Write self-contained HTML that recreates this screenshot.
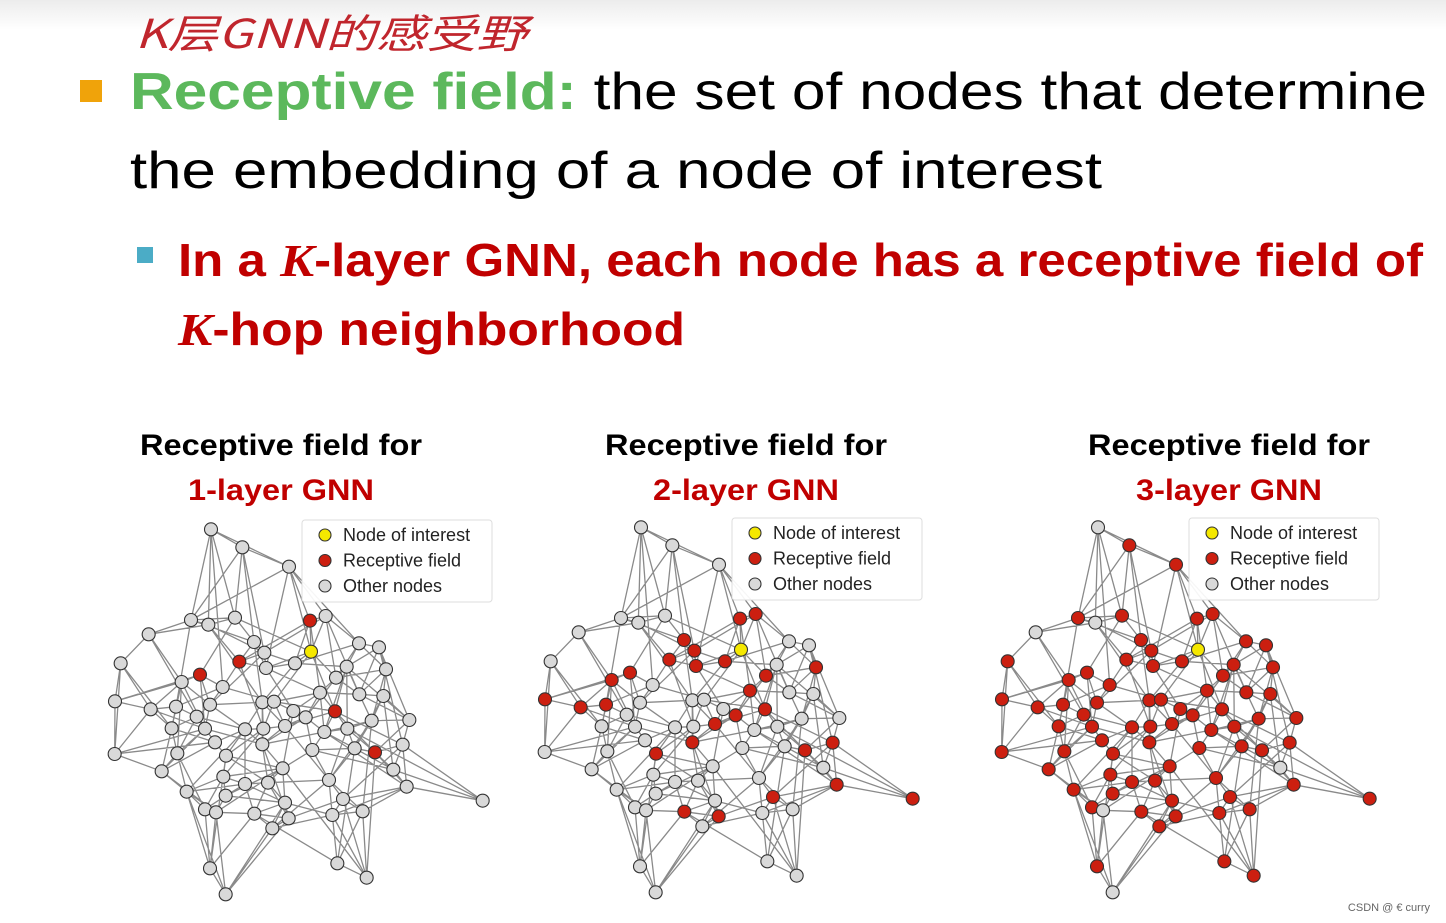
<!DOCTYPE html>
<html><head><meta charset="utf-8"><style>
html,body{margin:0;padding:0;background:#fff;}
body{width:1446px;height:923px;overflow:hidden;position:relative;}
svg{position:absolute;left:0;top:0;}
</style></head><body>
<svg id="s" width="1446" height="923" viewBox="0 0 1446 923" xmlns="http://www.w3.org/2000/svg">
<defs><linearGradient id="tg" x1="0" y1="0" x2="0" y2="1"><stop offset="0" stop-color="#ececec"/><stop offset="1" stop-color="#ffffff"/></linearGradient></defs>
<rect x="0" y="0" width="1446" height="30" fill="url(#tg)"/>
<text x="135" y="48" font-family="'Noto Sans CJK SC',sans-serif" font-size="40" fill="#c0262d" textLength="392" lengthAdjust="spacingAndGlyphs" font-style="italic">K层GNN的感受野</text>
<rect x="80" y="80" width="22" height="22" fill="#f0a30a"/>
<text x="130" y="109" font-family="'Liberation Sans',sans-serif" font-size="52" textLength="1297" lengthAdjust="spacingAndGlyphs"><tspan fill="#5cb85c" font-weight="bold">Receptive field:</tspan><tspan fill="#000"> the set of nodes that determine</tspan></text>
<text x="130" y="188" font-family="'Liberation Sans',sans-serif" font-size="52" fill="#000" textLength="972" lengthAdjust="spacingAndGlyphs">the embedding of a node of interest</text>
<rect x="137" y="247" width="16" height="16" fill="#4bacc6"/>
<text x="178" y="276" font-family="'Liberation Sans',sans-serif" font-size="46" font-weight="bold" fill="#c00000" textLength="1245" lengthAdjust="spacingAndGlyphs">In a <tspan font-family="'Liberation Serif',serif" font-style="italic">K</tspan>-layer GNN, each node has a receptive field of</text>
<text x="178" y="345" font-family="'Liberation Sans',sans-serif" font-size="46" font-weight="bold" fill="#c00000" textLength="507" lengthAdjust="spacingAndGlyphs"><tspan font-family="'Liberation Serif',serif" font-style="italic">K</tspan>-hop neighborhood</text>
<g font-family="'Liberation Sans',sans-serif" font-size="30" font-weight="bold" text-anchor="middle">
<text x="281" y="455" textLength="282" lengthAdjust="spacingAndGlyphs">Receptive field for</text>
<text x="281" y="500" fill="#c00000" textLength="186" lengthAdjust="spacingAndGlyphs">1-layer GNN</text>
<text x="746" y="455" textLength="282" lengthAdjust="spacingAndGlyphs">Receptive field for</text>
<text x="746" y="500" fill="#c00000" textLength="186" lengthAdjust="spacingAndGlyphs">2-layer GNN</text>
<text x="1229" y="455" textLength="282" lengthAdjust="spacingAndGlyphs">Receptive field for</text>
<text x="1229" y="500" fill="#c00000" textLength="186" lengthAdjust="spacingAndGlyphs">3-layer GNN</text>
</g>
<g id="graphs"></g>
<g id="legends"></g>
<text x="1430" y="911" font-family="'Liberation Sans',sans-serif" font-size="11" fill="#666" text-anchor="end">CSDN @ € curry</text>
</svg>
<script>
var Z=[[333,58],[427,112],[567,170],[677,318],[630,332],[273,330],[325,344],[405,323],[146,373],[462,396],[493,428],[777,400],[837,412],[633,425],[418,455],[62,460],[300,494],[245,516],[498,474],[585,460],[740,470],[858,478],[368,531],[708,503],[660,548],[778,553],[850,558],[45,574],[152,598],[228,590],[330,584],[487,577],[522,575],[580,603],[617,622],[705,604],[815,632],[928,630],[290,620],[215,655],[315,656],[435,658],[490,656],[555,648],[673,666],[742,656],[44,732],[232,730],[345,697],[378,737],[487,703],[637,720],[764,715],[825,727],[908,704],[185,784],[370,800],[435,822],[504,818],[548,775],[687,810],[880,779],[260,845],[377,857],[555,878],[729,867],[920,830],[1148,872],[315,898],[348,907],[463,911],[566,925],[697,915],[788,904],[517,955],[330,1075],[712,1060],[377,1153],[800,1103]];
var N=Z.length,YI=13;
function near(p){var b=0,bd=1e9;for(var i=0;i<N;i++){var d=(Z[i][0]-p[0])**2+(Z[i][1]-p[1])**2;if(d<bd){bd=d;b=i;}}return b;}
var r1=[[630,332],[418,455],[300,494],[705,604],[825,727]].map(near);
var r2=[[632,328],[678,316],[465,393],[495,422],[420,450],[497,468],[585,457],[302,490],[245,512],[45,570],[155,592],[230,590],[660,543],[710,500],[715,572],[705,600],[618,617],[556,645],[488,698],[378,732],[860,470],[828,722],[908,700],[920,826],[730,860],[1150,868],[465,908],[570,925]].map(near);
var g3=[[333,58],[325,344],[146,373],[880,779],[348,907],[377,1153]].map(near);
// edges
var seed=7;function rnd(){seed=(seed*16807)%2147483647;return seed/2147483647;}
var E={};function add(a,b){if(a==b)return;var k=a<b?a+'_'+b:b+'_'+a;E[k]=[a,b];}
for(var i=0;i<N;i++){var ds=[];for(var j=0;j<N;j++)if(j!=i)ds.push([(Z[i][0]-Z[j][0])**2+(Z[i][1]-Z[j][1])**2,j]);ds.sort(function(a,b){return a[0]-b[0]});
 add(i,ds[0][1]);add(i,ds[1][1]);add(i,ds[2][1]);
 for(var t=0;t<2;t++){var c=ds[3+Math.floor(rnd()*14)];if(c)add(i,c[1]);}}
add(0,22);add(0,6);add(1,2);add(1,10);add(2,13);add(2,3);add(2,18);add(67,61);add(67,66);add(75,62);add(77,75);add(77,64);add(78,76);add(78,65);
var ns="http://www.w3.org/2000/svg";
var G=document.getElementById('graphs');
var offs=[[100,510],[530,508],[987,508]];
for(var g=0;g<3;g++){
 var ox=offs[g][0],oy=offs[g][1];
 function P(i){return [ox+Z[i][0]/3,oy+Z[i][1]/3];}
 var grp=document.createElementNS(ns,'g');
 var d='';for(var k in E){var a=P(E[k][0]),b=P(E[k][1]);d+='M'+a[0].toFixed(1)+' '+a[1].toFixed(1)+'L'+b[0].toFixed(1)+' '+b[1].toFixed(1);}
 var pa=document.createElementNS(ns,'path');pa.setAttribute('d',d);pa.setAttribute('stroke','#8a8a8a');pa.setAttribute('stroke-width','1.3');pa.setAttribute('fill','none');grp.appendChild(pa);
 for(var i=0;i<N;i++){var p=P(i),c='#d9d9d9';
  if(g==0&&r1.indexOf(i)>=0)c='#cc1f10';
  if(g==1&&r2.indexOf(i)>=0)c='#cc1f10';
  if(g==2&&g3.indexOf(i)<0)c='#cc1f10';
  if(i==YI)c='#f5e800';
  var ci=document.createElementNS(ns,'circle');ci.setAttribute('cx',p[0]);ci.setAttribute('cy',p[1]);ci.setAttribute('r','6.5');ci.setAttribute('fill',c);ci.setAttribute('stroke','#333');ci.setAttribute('stroke-width','1.1');grp.appendChild(ci);}
 G.appendChild(grp);
}
var L=document.getElementById('legends');
[[302,520],[732,518],[1189,518]].forEach(function(o){
 var s='<rect x="'+o[0]+'" y="'+o[1]+'" width="190" height="82" rx="3" fill="#fff" fill-opacity="0.92" stroke="#ddd"/>';
 var it=[['#f5e800','Node of interest'],['#cc1f10','Receptive field'],['#d9d9d9','Other nodes']];
 it.forEach(function(e,k){var y=o[1]+15+k*25.5;
  s+='<circle cx="'+(o[0]+23)+'" cy="'+y+'" r="6" fill="'+e[0]+'" stroke="#333" stroke-width="1.1"/>';
  s+='<text x="'+(o[0]+41)+'" y="'+(y+6)+'" font-family="Liberation Sans,sans-serif" font-size="18" fill="#222">'+e[1]+'</text>';});
 L.insertAdjacentHTML('beforeend',s);
});
</script>
</body></html>
